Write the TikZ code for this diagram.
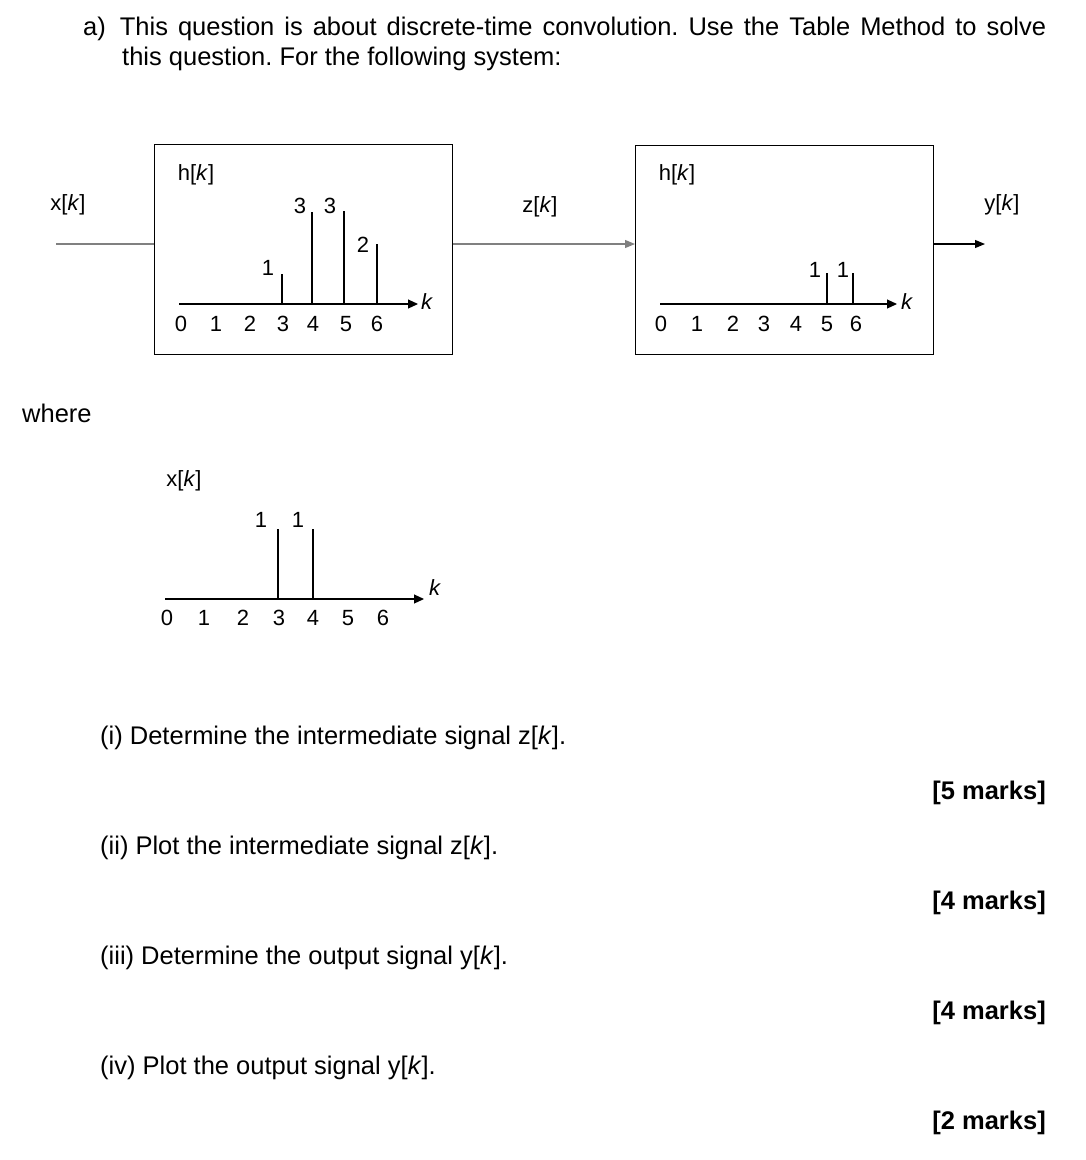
\documentclass[tikz,border=0pt]{standalone}
\usepackage{fontspec}
\setmainfont{Liberation Sans}
\usetikzlibrary{arrows.meta}
\frenchspacing
\begin{document}
\begin{tikzpicture}[x=1pt,y=-1pt,
  txt/.style={font=\fontsize{25.5}{30}\selectfont, inner sep=0pt},
  lab/.style={font=\fontsize{22}{26}\selectfont, inner sep=0pt},
  blk/.style={draw, line width=1.2pt},
  stem/.style={line width=1.1pt},
  axis/.style={line width=1.1pt,-{Triangle[length=10pt,width=9pt]}},
  sig/.style={line width=1.1pt, draw=gray},
  sigarr/.style={sig,-{Triangle[length=10pt,width=8pt]}}]
\useasboundingbox (0,0) rectangle (1086,1160);
% header
\node[txt,anchor=north west,text width=963pt,align=justify] (head) at (83,17) {a)\hspace{14pt}This question is about discrete-time convolution. Use the Table Method to solve\linebreak \hspace*{39pt}this question. For the following system:};
% blocks
\node[blk,minimum width=298pt,minimum height=210pt,anchor=north west] (b1) at (154,144) {};
\node[blk,minimum width=298pt,minimum height=209pt,anchor=north west] (b2) at (635,145) {};
\coordinate (in) at (56,244);
\coordinate (out) at (985,244);
\draw[sig] (in) -- (b1.west |- in);
\draw[sigarr] (b1.east |- in) -- (b2.west |- in);
\draw[line width=1.1pt,-{Triangle[length=10pt,width=8pt]}] (b2.east |- out) -- (out);
\node[lab] (xl) at (68,205) {x[\textit{k}]};
\node[lab] (zl) at (540,207) {z[\textit{k}]};
\node[lab] (yl) at (1002,205) {y[\textit{k}]};
% block 1 content
\node[lab] (h1) at (196,175) {h[\textit{k}]};
\draw[axis] (179,304) -- (418,304);
\node[lab] (k1) at (427,302) {\textit{k}};
\foreach \n/\x in {0/181,1/216,2/250,3/283,4/313,5/346,6/377}
  \node[lab] (t1\n) at (\x,324) {\n};
\draw[stem] (282,304) -- (282,274);
\draw[stem] (312,304) -- (312,212);
\draw[stem] (344,304) -- (344,211);
\draw[stem] (377,304) -- (377,244);
\node[lab] (v11) at (268,268) {1};
\node[lab] (v12) at (300,206) {3};
\node[lab] (v13) at (330,206) {3};
\node[lab] (v14) at (363,245) {2};
% block 2 content
\node[lab] (h2) at (677,175) {h[\textit{k}]};
\draw[axis] (660,304) -- (897,304);
\node[lab] (k2) at (907,302) {\textit{k}};
\foreach \n/\x in {0/661,1/697,2/733,3/764,4/796,5/827,6/856}
  \node[lab] (t2\n) at (\x,324) {\n};
\draw[stem] (827,304) -- (827,273);
\draw[stem] (853,304) -- (853,273);
\node[lab] (v21) at (815,270) {1};
\node[lab] (v22) at (843,270) {1};
% where
\node[txt,anchor=west] (where) at (22,413) {where};
% x plot
\node[lab] (xk) at (184,481) {x[\textit{k}]};
\draw[axis] (165,599) -- (424,599);
\node[lab] (k3) at (435,588) {\textit{k}};
\foreach \n/\x in {0/167,1/204,2/243,3/279,4/313,5/348,6/383}
  \node[lab] (t3\n) at (\x,618) {\n};
\draw[stem] (278,599) -- (278,529);
\draw[stem] (313,599) -- (313,529);
\node[lab] (v31) at (261,520) {1};
\node[lab] (v32) at (298,520) {1};
% questions
\node[txt,anchor=west] (q1) at (100,738) {(i) Determine the intermediate signal z[\textit{k}].};
\node[txt,anchor=east] (m1) at (1046,793) {\textbf{[5 marks]}};
\node[txt,anchor=west] (q2) at (100,848) {(ii) Plot the intermediate signal z[\textit{k}].};
\node[txt,anchor=east] (m2) at (1046,903) {\textbf{[4 marks]}};
\node[txt,anchor=west] (q3) at (100,958) {(iii) Determine the output signal y[\textit{k}].};
\node[txt,anchor=east] (m3) at (1046,1013) {\textbf{[4 marks]}};
\node[txt,anchor=west] (q4) at (100,1068) {(iv) Plot the output signal y[\textit{k}].};
\node[txt,anchor=east] (m4) at (1046,1123) {\textbf{[2 marks]}};
\end{tikzpicture}
\end{document}
